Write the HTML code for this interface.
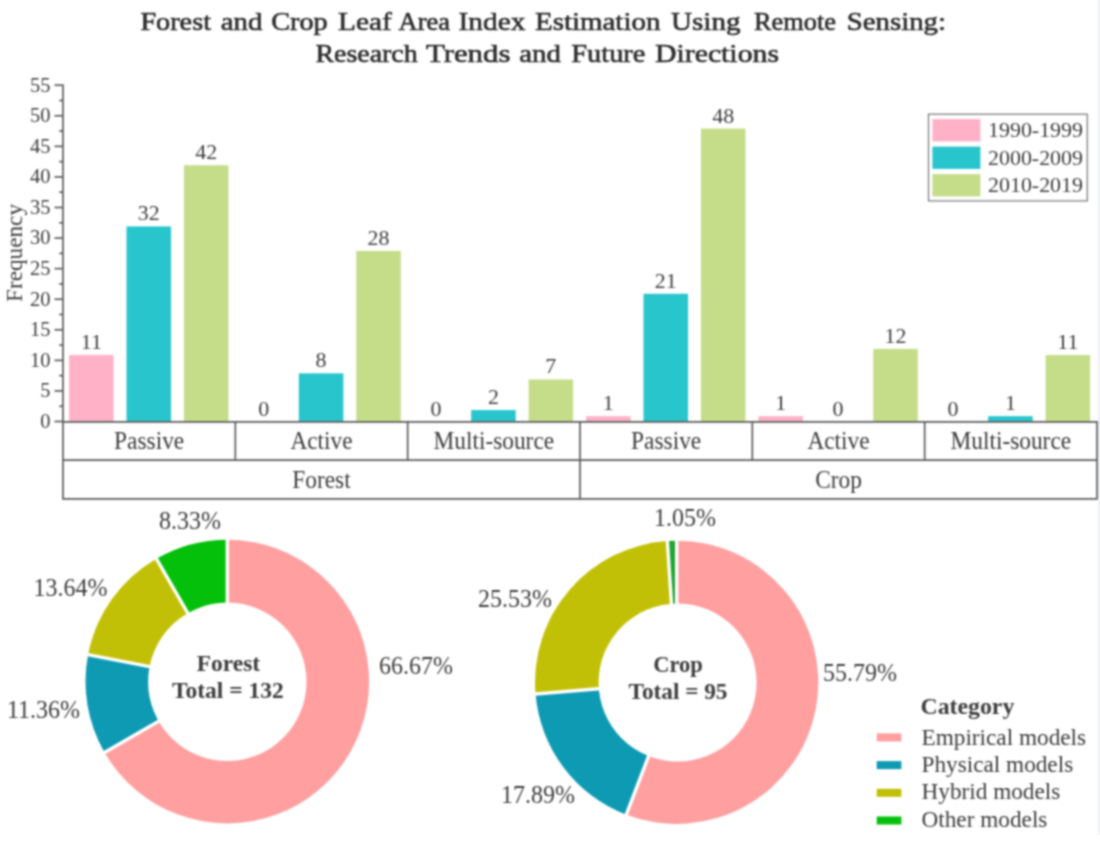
<!DOCTYPE html>
<html lang="en"><head><meta charset="utf-8"><title>Forest and Crop Leaf Area Index Estimation Using Remote Sensing</title>
<style>html,body{margin:0;padding:0;background:#fff}body{width:1100px;height:846px;overflow:hidden}svg{display:block}text{font-family:"Liberation Serif", "DejaVu Serif", serif;fill:#3c3c3c;stroke:none}.ttl{fill:#2b2b2b;stroke:#2b2b2b;stroke-width:.6px}</style></head><body>
<svg width="1100" height="846" viewBox="0 0 1100 846">
<defs><filter id="b" x="0" y="0" width="100%" height="100%" filterUnits="userSpaceOnUse" color-interpolation-filters="sRGB"><feConvolveMatrix order="5" kernelMatrix="0.00212 0.01118 0.01946 0.01118 0.00212 0.01118 0.05892 0.10253 0.05892 0.01118 0.01946 0.10253 0.17843 0.10253 0.01946 0.01118 0.05892 0.10253 0.05892 0.01118 0.00212 0.01118 0.01946 0.01118 0.00212" edgeMode="duplicate"/></filter><linearGradient id="edge" x1="0" x2="1" y1="0" y2="0"><stop offset="0" stop-color="#fff"/><stop offset="1" stop-color="#ebeff5"/></linearGradient></defs>
<rect width="1100" height="846" fill="#fff"/>
<rect x="1096.5" y="0" width="3.5" height="835" fill="url(#edge)"/>
<g filter="url(#b)">
<text class="ttl" x="140.4" y="29.5" font-size="26" textLength="70.6" lengthAdjust="spacingAndGlyphs">Forest</text>
<text class="ttl" x="220.8" y="29.5" font-size="26" textLength="41.5" lengthAdjust="spacingAndGlyphs">and</text>
<text class="ttl" x="271.3" y="29.5" font-size="26" textLength="56.4" lengthAdjust="spacingAndGlyphs">Crop</text>
<text class="ttl" x="338" y="29.5" font-size="26" textLength="53.8" lengthAdjust="spacingAndGlyphs">Leaf</text>
<text class="ttl" x="398.6" y="29.5" font-size="26" textLength="51.3" lengthAdjust="spacingAndGlyphs">Area</text>
<text class="ttl" x="458.6" y="29.5" font-size="26" textLength="66.8" lengthAdjust="spacingAndGlyphs">Index</text>
<text class="ttl" x="535" y="29.5" font-size="26" textLength="125.4" lengthAdjust="spacingAndGlyphs">Estimation</text>
<text class="ttl" x="671" y="29.5" font-size="26" textLength="69.5" lengthAdjust="spacingAndGlyphs">Using</text>
<text class="ttl" x="754" y="29.5" font-size="26" textLength="82.0" lengthAdjust="spacingAndGlyphs">Remote</text>
<text class="ttl" x="846.8" y="29.5" font-size="26" textLength="99.2" lengthAdjust="spacingAndGlyphs">Sensing:</text>
<text class="ttl" x="315.4" y="61.5" font-size="26" textLength="102.3" lengthAdjust="spacingAndGlyphs">Research</text>
<text class="ttl" x="425.9" y="61.5" font-size="26" textLength="84.5" lengthAdjust="spacingAndGlyphs">Trends</text>
<text class="ttl" x="519.2" y="61.5" font-size="26" textLength="41.7" lengthAdjust="spacingAndGlyphs">and</text>
<text class="ttl" x="571.3" y="61.5" font-size="26" textLength="74.1" lengthAdjust="spacingAndGlyphs">Future</text>
<text class="ttl" x="655" y="61.5" font-size="26" textLength="124.0" lengthAdjust="spacingAndGlyphs">Directions</text>
<rect x="69.07" y="354.98" width="44.5" height="66.52" fill="#ffb1c8"/>
<text x="91.32" y="348.74" font-size="21.5" text-anchor="middle" textLength="21.1" lengthAdjust="spacingAndGlyphs">11</text>
<rect x="126.52" y="226.46" width="44.5" height="195.04" fill="#28c5cd"/>
<text x="148.77" y="220.33" font-size="21.5" text-anchor="middle" textLength="21.9" lengthAdjust="spacingAndGlyphs">32</text>
<rect x="183.96" y="165.26" width="44.5" height="256.24" fill="#c5dd89"/>
<text x="206.21" y="159.19" font-size="21.5" text-anchor="middle" textLength="21.9" lengthAdjust="spacingAndGlyphs">42</text>
<text x="263.66" y="416.00" font-size="21.5" text-anchor="middle" textLength="11.0" lengthAdjust="spacingAndGlyphs">0</text>
<rect x="298.85" y="373.34" width="44.5" height="48.16" fill="#28c5cd"/>
<text x="321.10" y="367.08" font-size="21.5" text-anchor="middle" textLength="11.0" lengthAdjust="spacingAndGlyphs">8</text>
<rect x="356.29" y="250.94" width="44.5" height="170.56" fill="#c5dd89"/>
<text x="378.54" y="244.79" font-size="21.5" text-anchor="middle" textLength="21.9" lengthAdjust="spacingAndGlyphs">28</text>
<text x="435.99" y="416.00" font-size="21.5" text-anchor="middle" textLength="11.0" lengthAdjust="spacingAndGlyphs">0</text>
<rect x="471.18" y="410.06" width="44.5" height="11.44" fill="#28c5cd"/>
<text x="493.43" y="403.77" font-size="21.5" text-anchor="middle" textLength="11.0" lengthAdjust="spacingAndGlyphs">2</text>
<rect x="528.63" y="379.46" width="44.5" height="42.04" fill="#c5dd89"/>
<text x="550.88" y="373.20" font-size="21.5" text-anchor="middle" textLength="11.0" lengthAdjust="spacingAndGlyphs">7</text>
<rect x="586.07" y="416.18" width="44.5" height="5.32" fill="#ffb1c8"/>
<text x="608.32" y="409.89" font-size="21.5" text-anchor="middle" textLength="11.0" lengthAdjust="spacingAndGlyphs">1</text>
<rect x="643.52" y="293.78" width="44.5" height="127.72" fill="#28c5cd"/>
<text x="665.77" y="287.59" font-size="21.5" text-anchor="middle" textLength="21.9" lengthAdjust="spacingAndGlyphs">21</text>
<rect x="700.96" y="128.54" width="44.5" height="292.96" fill="#c5dd89"/>
<text x="723.21" y="122.50" font-size="21.5" text-anchor="middle" textLength="21.9" lengthAdjust="spacingAndGlyphs">48</text>
<rect x="758.41" y="416.18" width="44.5" height="5.32" fill="#ffb1c8"/>
<text x="780.66" y="409.89" font-size="21.5" text-anchor="middle" textLength="11.0" lengthAdjust="spacingAndGlyphs">1</text>
<text x="838.10" y="416.00" font-size="21.5" text-anchor="middle" textLength="11.0" lengthAdjust="spacingAndGlyphs">0</text>
<rect x="873.29" y="348.86" width="44.5" height="72.64" fill="#c5dd89"/>
<text x="895.54" y="342.63" font-size="21.5" text-anchor="middle" textLength="21.9" lengthAdjust="spacingAndGlyphs">12</text>
<text x="952.99" y="416.00" font-size="21.5" text-anchor="middle" textLength="11.0" lengthAdjust="spacingAndGlyphs">0</text>
<rect x="988.18" y="416.18" width="44.5" height="5.32" fill="#28c5cd"/>
<text x="1010.43" y="409.89" font-size="21.5" text-anchor="middle" textLength="11.0" lengthAdjust="spacingAndGlyphs">1</text>
<rect x="1045.63" y="354.98" width="44.5" height="66.52" fill="#c5dd89"/>
<text x="1067.88" y="348.74" font-size="21.5" text-anchor="middle" textLength="21.1" lengthAdjust="spacingAndGlyphs">11</text>
<g stroke="#5c5c5c" stroke-width="1.7" fill="none">
<path d="M63.0 84.4V421.5"/>
<path d="M54.5 421.50H63.0"/>
<path d="M54.5 390.93H63.0"/>
<path d="M54.5 360.35H63.0"/>
<path d="M54.5 329.78H63.0"/>
<path d="M54.5 299.21H63.0"/>
<path d="M54.5 268.64H63.0"/>
<path d="M54.5 238.06H63.0"/>
<path d="M54.5 207.49H63.0"/>
<path d="M54.5 176.92H63.0"/>
<path d="M54.5 146.35H63.0"/>
<path d="M54.5 115.77H63.0"/>
<path d="M54.5 85.20H63.0"/>
<path d="M59.2 406.21H63.0"/>
<path d="M59.2 375.64H63.0"/>
<path d="M59.2 345.07H63.0"/>
<path d="M59.2 314.50H63.0"/>
<path d="M59.2 283.92H63.0"/>
<path d="M59.2 253.35H63.0"/>
<path d="M59.2 222.78H63.0"/>
<path d="M59.2 192.20H63.0"/>
<path d="M59.2 161.63H63.0"/>
<path d="M59.2 131.06H63.0"/>
<path d="M59.2 100.49H63.0"/>
<path d="M63.0 421.9H1097.0V498.8H63.0Z"/>
<path d="M63.0 460.2H1097.0"/>
<path d="M235.33 421.5V460.2"/>
<path d="M407.67 421.5V460.2"/>
<path d="M580.00 421.5V498.8"/>
<path d="M752.33 421.5V460.2"/>
<path d="M924.67 421.5V460.2"/>
</g>
<text x="50.50" y="427.90" font-size="20.5" text-anchor="end" textLength="10.2" lengthAdjust="spacingAndGlyphs">0</text>
<text x="50.50" y="397.33" font-size="20.5" text-anchor="end" textLength="10.2" lengthAdjust="spacingAndGlyphs">5</text>
<text x="50.50" y="366.75" font-size="20.5" text-anchor="end" textLength="20.5" lengthAdjust="spacingAndGlyphs">10</text>
<text x="50.50" y="336.18" font-size="20.5" text-anchor="end" textLength="20.5" lengthAdjust="spacingAndGlyphs">15</text>
<text x="50.50" y="305.61" font-size="20.5" text-anchor="end" textLength="20.5" lengthAdjust="spacingAndGlyphs">20</text>
<text x="50.50" y="275.04" font-size="20.5" text-anchor="end" textLength="20.5" lengthAdjust="spacingAndGlyphs">25</text>
<text x="50.50" y="244.46" font-size="20.5" text-anchor="end" textLength="20.5" lengthAdjust="spacingAndGlyphs">30</text>
<text x="50.50" y="213.89" font-size="20.5" text-anchor="end" textLength="20.5" lengthAdjust="spacingAndGlyphs">35</text>
<text x="50.50" y="183.32" font-size="20.5" text-anchor="end" textLength="20.5" lengthAdjust="spacingAndGlyphs">40</text>
<text x="50.50" y="152.75" font-size="20.5" text-anchor="end" textLength="20.5" lengthAdjust="spacingAndGlyphs">45</text>
<text x="50.50" y="122.17" font-size="20.5" text-anchor="end" textLength="20.5" lengthAdjust="spacingAndGlyphs">50</text>
<text x="50.50" y="91.60" font-size="20.5" text-anchor="end" textLength="20.5" lengthAdjust="spacingAndGlyphs">55</text>
<text transform="translate(21.5,253) rotate(-90)" font-size="23.5" text-anchor="middle" textLength="98" lengthAdjust="spacingAndGlyphs">Frequency</text>
<text x="149.17" y="449.00" font-size="24.2" text-anchor="middle" textLength="70.1" lengthAdjust="spacingAndGlyphs">Passive</text>
<text x="321.50" y="449.00" font-size="24.2" text-anchor="middle" textLength="62.2" lengthAdjust="spacingAndGlyphs">Active</text>
<text x="493.83" y="449.00" font-size="24.2" text-anchor="middle" textLength="120.6" lengthAdjust="spacingAndGlyphs">Multi-source</text>
<text x="666.17" y="449.00" font-size="24.2" text-anchor="middle" textLength="70.1" lengthAdjust="spacingAndGlyphs">Passive</text>
<text x="838.50" y="449.00" font-size="24.2" text-anchor="middle" textLength="62.2" lengthAdjust="spacingAndGlyphs">Active</text>
<text x="1010.83" y="449.00" font-size="24.2" text-anchor="middle" textLength="120.6" lengthAdjust="spacingAndGlyphs">Multi-source</text>
<text x="321.50" y="487.50" font-size="24.2" text-anchor="middle" textLength="58.4" lengthAdjust="spacingAndGlyphs">Forest</text>
<text x="838.50" y="487.50" font-size="24.2" text-anchor="middle" textLength="46.7" lengthAdjust="spacingAndGlyphs">Crop</text>
<rect x="928.5" y="114.2" width="158.8" height="86.7" fill="#fff" stroke="#6e6e6e" stroke-width="1.15"/>
<rect x="932.4" y="119.1" width="48" height="22.3" fill="#ffb1c8"/>
<text x="988.00" y="137.40" font-size="21.5" text-anchor="start" textLength="95.0" lengthAdjust="spacingAndGlyphs">1990-1999</text>
<rect x="932.4" y="146.6" width="48" height="22.3" fill="#28c5cd"/>
<text x="988.00" y="164.90" font-size="21.5" text-anchor="start" textLength="95.0" lengthAdjust="spacingAndGlyphs">2000-2009</text>
<rect x="932.4" y="174.1" width="48" height="22.3" fill="#c5dd89"/>
<text x="988.00" y="192.40" font-size="21.5" text-anchor="start" textLength="95.0" lengthAdjust="spacingAndGlyphs">2010-2019</text>
<path d="M227.3 681.6L227.30 539.80A141.8 141.8 0 1 1 104.50 752.50Z" fill="#ff9fa0"/>
<path d="M227.3 681.6L104.50 752.50A141.8 141.8 0 0 1 88.06 654.76Z" fill="#0f9ab4"/>
<path d="M227.3 681.6L88.06 654.76A141.8 141.8 0 0 1 156.40 558.80Z" fill="#c2c006"/>
<path d="M227.3 681.6L156.40 558.80A141.8 141.8 0 0 1 227.30 539.80Z" fill="#04c00a"/>
<path d="M227.3 681.6L227.30 536.80M227.3 681.6L101.90 754.00M227.3 681.6L85.12 654.20M227.3 681.6L154.90 556.20" stroke="#fff" stroke-width="3.4" fill="none"/>
<circle cx="227.3" cy="681.8" r="79.2" fill="#fff"/>
<path d="M676.7 682.3L676.70 540.70A141.6 141.6 0 1 1 626.32 814.63Z" fill="#ff9fa0"/>
<path d="M676.7 682.3L626.32 814.63A141.6 141.6 0 0 1 535.58 693.99Z" fill="#0f9ab4"/>
<path d="M676.7 682.3L535.58 693.99A141.6 141.6 0 0 1 667.34 541.01Z" fill="#c2c006"/>
<path d="M676.7 682.3L667.34 541.01A141.6 141.6 0 0 1 676.70 540.70Z" fill="#1fa532"/>
<path d="M676.7 682.3L676.70 537.70M676.7 682.3L625.25 817.44M676.7 682.3L532.59 694.24M676.7 682.3L667.14 538.02" stroke="#fff" stroke-width="3.4" fill="none"/>
<circle cx="677.6" cy="682.6" r="79.0" fill="#fff"/>
<text x="228.40" y="671.00" font-size="23.5" text-anchor="middle" font-weight="bold" textLength="63.5" lengthAdjust="spacingAndGlyphs" fill="#333">Forest</text>
<text x="227.80" y="698.00" font-size="23.5" text-anchor="middle" font-weight="bold" textLength="111.8" lengthAdjust="spacingAndGlyphs" fill="#333">Total = 132</text>
<text x="678.00" y="672.40" font-size="23.5" text-anchor="middle" font-weight="bold" textLength="49.7" lengthAdjust="spacingAndGlyphs" fill="#333">Crop</text>
<text x="678.00" y="699.40" font-size="23.5" text-anchor="middle" font-weight="bold" textLength="99.0" lengthAdjust="spacingAndGlyphs" fill="#333">Total = 95</text>
<text x="159.00" y="529.00" font-size="24.6" text-anchor="start" textLength="62.0" lengthAdjust="spacingAndGlyphs">8.33%</text>
<text x="33.50" y="596.00" font-size="24.6" text-anchor="start" textLength="73.9" lengthAdjust="spacingAndGlyphs">13.64%</text>
<text x="7.00" y="717.50" font-size="24.6" text-anchor="start" textLength="73.1" lengthAdjust="spacingAndGlyphs">11.36%</text>
<text x="379.00" y="673.80" font-size="24.6" text-anchor="start" textLength="73.9" lengthAdjust="spacingAndGlyphs">66.67%</text>
<text x="654.00" y="525.50" font-size="24.6" text-anchor="start" textLength="62.0" lengthAdjust="spacingAndGlyphs">1.05%</text>
<text x="478.00" y="607.00" font-size="24.6" text-anchor="start" textLength="73.9" lengthAdjust="spacingAndGlyphs">25.53%</text>
<text x="501.00" y="802.80" font-size="24.6" text-anchor="start" textLength="73.9" lengthAdjust="spacingAndGlyphs">17.89%</text>
<text x="823.00" y="681.00" font-size="24.6" text-anchor="start" textLength="73.9" lengthAdjust="spacingAndGlyphs">55.79%</text>
<text x="920.50" y="714.00" font-size="23.8" text-anchor="start" font-weight="bold" textLength="93.8" lengthAdjust="spacingAndGlyphs" fill="#333">Category</text>
<rect x="876.7" y="733.4" width="24.7" height="8" fill="#ff9fa0"/>
<text x="921.50" y="744.50" font-size="23.6" text-anchor="start" textLength="164.6" lengthAdjust="spacingAndGlyphs">Empirical models</text>
<rect x="876.7" y="761.1" width="24.7" height="8" fill="#0f9ab4"/>
<text x="921.50" y="771.95" font-size="23.6" text-anchor="start" textLength="151.7" lengthAdjust="spacingAndGlyphs">Physical models</text>
<rect x="876.7" y="788.8" width="24.7" height="8" fill="#c2c006"/>
<text x="921.50" y="799.40" font-size="23.6" text-anchor="start" textLength="138.8" lengthAdjust="spacingAndGlyphs">Hybrid models</text>
<rect x="876.7" y="816.5" width="24.7" height="8" fill="#04c00a"/>
<text x="921.50" y="826.85" font-size="23.6" text-anchor="start" textLength="125.9" lengthAdjust="spacingAndGlyphs">Other models</text>
</g>
</svg></body></html>
